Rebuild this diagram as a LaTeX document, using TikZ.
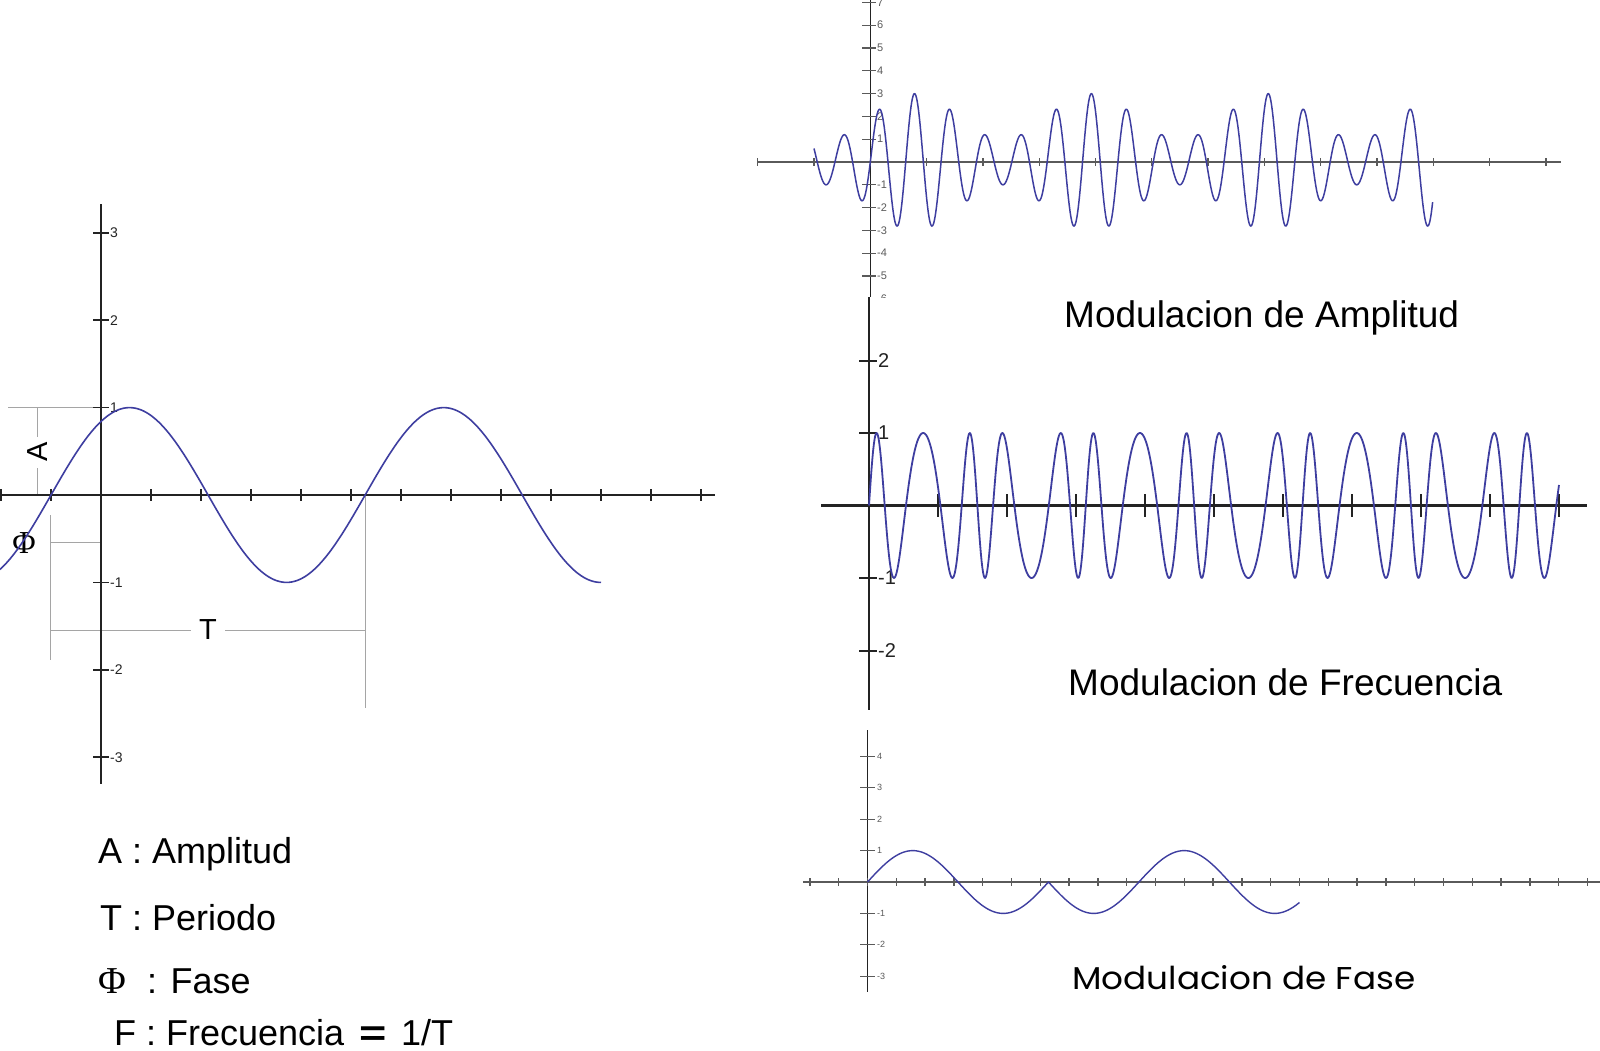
\documentclass[tikz,border=0pt]{standalone}
\usepackage{fontspec}
\usepackage{graphicx}
\setmainfont{Liberation Sans}
\newfontfamily\phifont{Liberation Serif}
\newfontfamily\geofont{Poppins}
\definecolor{wave}{RGB}{62,62,160}
\definecolor{axisdark}{RGB}{35,35,35}
\definecolor{axisgrey}{RGB}{90,90,90}
\definecolor{guide}{RGB}{165,165,165}
\begin{document}
\begin{tikzpicture}[x=1pt,y=-1pt,
  wavecurve/.style={wave, line width=1.6pt, line join=round},
  axisline/.style={axisdark, line width=1.6pt},
  amaxis/.style={axisgrey, line width=1.3pt},
  fmaxis/.style={axisdark, line width=2.6pt},
  pmaxis/.style={axisgrey, line width=1.3pt},
  guideline/.style={guide, line width=0.9pt},
  ticklab/.style={inner sep=0pt, anchor=west, text=axisdark},
  lbl/.style={inner sep=0pt, anchor=base west, text=black}]
\fill[white] (0,0) rectangle (1600,1050);
\useasboundingbox (0,0) rectangle (1600,1050);

% ---------------- left plot ----------------
\draw[guideline] (8,407.6) -- (101,407.6);
\draw[guideline] (37.6,407.6) -- (37.6,437) (37.6,468) -- (37.6,495);
\node[rotate=90, inner sep=0pt, font=\fontsize{29}{29}\selectfont] (Alab) at (38,452) {A};
\draw[guideline] (50,515) -- (50,660);
\draw[guideline] (50,542.7) -- (101,542.7);
\node[inner sep=0pt, font=\phifont\fontsize{32}{32}\selectfont] (Philab) at (24,543) {Φ};
\draw[guideline] (50,630) -- (191,630) (225,630) -- (365,630);
\draw[guideline] (365,495) -- (365,708);
\node[inner sep=0pt, font=\fontsize{29}{29}\selectfont] (Tlab) at (208,630) {T};

\draw[axisline] (0,495) -- (715,495);
\draw[axisline] (101,204) -- (101,784);
\foreach \k in {-2,...,12} \draw[axisline] ({101+50*\k},489) -- ({101+50*\k},501);
\foreach \k in {-3,-2,-1,1,2,3} {
  \draw[axisline] (93,{495-87.4*\k}) -- (109,{495-87.4*\k});
  \node[ticklab, font=\fontsize{14}{14}\selectfont] (ly\k) at (110,{495-87.4*\k}) {\k};
}
\draw[wavecurve] plot[domain=0:601, samples=240] (\x,{495-87.4*sin(deg((\x-51)/50))});

% ---------------- AM plot ----------------
\begin{scope}
\clip (740,0) rectangle (1600,297);
\draw[amaxis] (758,162) -- (1561,162);
\draw[amaxis, axisdark] (870.3,0) -- (870.3,297);
\foreach \k in {-2,...,12} \draw[amaxis] ({870.3+56.3*\k},158) -- ({870.3+56.3*\k},166);
\foreach \k in {-6,-5,-4,-3,-2,-1,1,2,3,4,5,6,7} {
  \draw[amaxis] (862,{162-22.8*\k}) -- (876,{162-22.8*\k});
  \node[ticklab, text=axisgrey, font=\fontsize{11}{11}\selectfont] (amy\k) at (877,{162-22.8*\k}) {\k};
}
\draw[wavecurve, line width=1.5pt] plot[domain=-1:10, samples=900]
  ({870.3+56.3*\x},{162-22.8*(2+sin(deg(2*\x)))*sin(deg(10*\x))});
\end{scope}
\node[lbl, font=\fontsize{37}{37}\selectfont] (amtitle) at (1064,327) {Modulacion de Amplitud};

% ---------------- FM plot ----------------
\draw[fmaxis] (821,505.5) -- (1587,505.5);
\draw[fmaxis, line width=2pt] (869,297) -- (869,710);
\foreach \k in {1,...,10} \draw[fmaxis, line width=2pt] ({869+69*\k},494) -- ({869+69*\k},517);
\foreach \k in {-2,-1,1,2} {
  \draw[fmaxis, line width=2pt] (859,{505.5-72.5*\k}) -- (877,{505.5-72.5*\k});
  \node[ticklab, font=\fontsize{20}{20}\selectfont] (fmy\k) at (878,{505.5-72.5*\k}) {\k};
}
\draw[wavecurve, line width=1.8pt] plot[domain=0:10, samples=1000]
  ({869+69*\x},{505.5-72.5*sin(deg(10*\x+1.1*sin(deg(4*\x))))});
\node[lbl, font=\fontsize{37}{37}\selectfont] (fmtitle) at (1068,695) {Modulacion de Frecuencia};

% ---------------- PM plot ----------------
\draw[pmaxis] (803,882) -- (1600,882);
\draw[pmaxis, axisdark] (867.5,730) -- (867.5,992);
\foreach \k in {-2,...,25} \draw[pmaxis] ({867.5+28.8*\k},878) -- ({867.5+28.8*\k},886);
\foreach \k in {-3,-2,-1,1,2,3,4} {
  \draw[pmaxis] (860,{882-31.4*\k}) -- (875,{882-31.4*\k});
  \node[ticklab, text=axisgrey, font=\fontsize{9}{9}\selectfont] (pmy\k) at (877,{882-31.4*\k}) {\k};
}
\draw[wavecurve, line width=1.4pt] plot[domain=0:6.2832, samples=120]
  ({867.5+28.8*\x},{882-31.4*sin(deg(\x))})
  -- plot[domain=6.2832:15, samples=160]
  ({867.5+28.8*\x},{882+31.4*sin(deg(\x))});
\node[lbl] (pmtitle) at (1072,989) {\resizebox{343pt}{24pt}{\geofont Modulacion de Fase}};

% ---------------- legend ----------------
\node[lbl, font=\fontsize{36}{36}\selectfont] (legA) at (98,863) {A : Amplitud};
\node[lbl, font=\fontsize{36}{36}\selectfont] (legT) at (100,930) {T : Periodo};
\node[lbl, font=\phifont\fontsize{38}{38}\selectfont] (legPhi) at (98,993) {Φ};
\node[lbl, font=\fontsize{36}{36}\selectfont] (legFase) at (147,993) {: Fase};
\node[lbl, font=\fontsize{36}{36}\selectfont] (legF) at (114,1045) {F : Frecuencia};
\node[lbl, font=\fontsize{36}{36}\selectfont] (legEq) at (359,1045) {\scalebox{1.3}[1]{\textbf{=}}};
\node[lbl, font=\fontsize{36}{36}\selectfont] (legInv) at (401,1045) {1/T};
\end{tikzpicture}
\end{document}
